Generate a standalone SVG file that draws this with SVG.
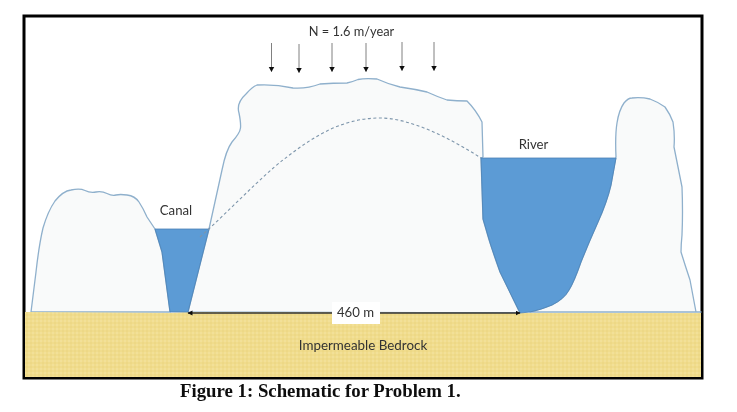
<svg xmlns="http://www.w3.org/2000/svg" width="737" height="412" viewBox="0 0 737 412">
<style>
.hill{fill:#f9fafa;stroke:#8fb0cc;stroke-width:1.3;stroke-linejoin:round}
.water{fill:#5b9bd5;stroke:#4d82b5;stroke-width:.8}
.lbl{font-family:Lato,"Open Sans",sans-serif;font-size:13.2px;fill:#333;text-anchor:middle}
.rain{stroke:#808080;stroke-width:1;fill:none;marker-end:url(#rainhead)}
</style>
<defs>
<marker id="rainhead" markerUnits="userSpaceOnUse" markerWidth="7" markerHeight="7" refX="5" refY="3" orient="auto"><path d="M0 0L5.500 3L0 6Z" fill="#111"/></marker>
<marker id="dimend" markerUnits="userSpaceOnUse" markerWidth="6" markerHeight="6" refX="4.5" refY="2.5" orient="auto-start-reverse"><path d="M0 0L5 2.5L0 5Z" fill="#111"/></marker>
<pattern id="sand" width="4" height="4" patternUnits="userSpaceOnUse"><rect width="4" height="4" fill="#f0dc8c"/><circle cx="1" cy="1" r=".7" fill="#f7e9ad"/><circle cx="3" cy="3" r=".7" fill="#e9d27c"/></pattern>
<filter id="soft" x="-2%" y="-2%" width="104%" height="104%"><feGaussianBlur stdDeviation="0.35"/></filter>
</defs>
<rect width="737" height="412" fill="#fff"/>
<g filter="url(#soft)">
<rect id="frame" x="24" y="16" width="678" height="362" fill="#fff" stroke="#000" stroke-width="3"/>
<g id="left-hill"><path class="hill" d="M31 312L36 272Q39 245 43 228Q48 211 55 201Q63 191 71 190Q80 188 85 190.500Q90 193 96 192Q102 191 107 193.500Q112 196 116 195Q120 194 127 195Q135 196 139 202Q143 208 147 217L155 229L162 252L170 312Z"/></g>
<g id="middle-hill"><path class="hill" d="M188 312L209 229L222 170Q226 150 232 142Q240 133 240.500 128Q241 123 239 113Q236 103 246 94Q252 87 257 85Q275 84 293 88Q307 89 320 84Q333 83 347 83Q352 82 358 79.500Q365 78 377 79Q388 84 400 87Q414 89 427 92Q438 97 447 100Q457 101 467 101Q476 110 482 122L483 157L481 158L483 219Q490 245 500 272L520 313Z"/></g>
<g id="right-hill"><path class="hill" d="M616 157Q615 135 617 123Q619 110 624 103Q628 98 632 98Q641 97 650 99Q658 102 665 107Q670 114 673 122Q675 135 674 147L682 187Q683 212 682 235Q681 245 681 252Q685 265 690 280L696 312L701 312L530 312Q540 310 552 305Q564 299 569 290Q574 282 581 262Q589 242 598 222Q607 202 611 185Z"/></g>
<g id="bedrock"><path d="M25 312L170 313L188 312L520 313L701 313V377H25Z" fill="url(#sand)"/></g>
<g id="canal"><path class="water" d="M155 229H209L188 312L170 312L162 252Z"/></g>
<g id="river"><path class="water" d="M481 158H616L611 185Q607 202 598 222Q589 242 581 262Q574 282 569 290Q564 299 552 305Q540 310 530 312L520 313L500 272Q490 245 483 219Z"/></g>
<g id="connectors">
<path d="M200 237C228 212 262 176 283 160C310 139 340 118 380 118C410 118 450 138 481 158" fill="none" stroke="#7d95ab" stroke-width="1.1" stroke-dasharray="3 2.5"/>
<path class="rain" d="M271.500 43V71.500"/>
<path class="rain" d="M299 44V72.500"/>
<path class="rain" d="M332 43V71.500"/>
<path class="rain" d="M366 43V71.500"/>
<path class="rain" d="M402 42V70.500"/>
<path class="rain" d="M434 42V70.500"/>
<path d="M188 313H520" stroke="#333" stroke-width="1.500" fill="none" marker-start="url(#dimend)" marker-end="url(#dimend)"/>
</g>
<rect x="332" y="302" width="48" height="22" fill="#fff"/>
<g id="labels">
<text class="lbl" x="351.500" y="36" style="font-size:12.800px">N = 1.6 m/year</text>
<text class="lbl" x="176" y="215">Canal</text>
<text class="lbl" x="533.500" y="149">River</text>
<text class="lbl" x="355.500" y="317">460 m</text>
<text class="lbl" x="363" y="350" style="font-size:13.400px">Impermeable Bedrock</text>
</g>
<text id="caption" x="180" y="397" font-family="'Liberation Serif',serif" font-weight="bold" font-size="18.800" fill="#111">Figure 1: Schematic for Problem 1.</text>
</g>
</svg>
